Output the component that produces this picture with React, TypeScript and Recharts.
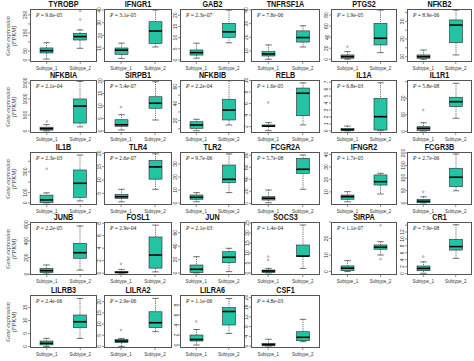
import React from 'react';
import { ComposedChart, Bar, Line, XAxis, YAxis } from 'recharts';

const genes = [
  'TYROBP', 'IFNGR1', 'GAB2', 'TNFRSF1A', 'PTGS2', 'NFKB2',
  'NFKBIA', 'SIRPB1', 'NFKBIB', 'RELB', 'IL1A', 'IL1R1',
  'IL1B', 'TLR4', 'TLR2', 'FCGR2A', 'IFNGR2', 'FCGR3B',
  'JUNB', 'FOSL1', 'JUN', 'SOCS3', 'SIRPA', 'CR1',
  'LILRB3', 'LILRA2', 'LILRA6', 'CSF1',
];

const pValues = [
  '9.6e-05', '3.1e-05', '2.3e-07', '7.8e-06', '1.9e-05', '8.9e-06',
  '2.1e-04', '5.4e-07', '2.2e-04', '1.6e-05', '6.8e-03', '5.8e-08',
  '2.3e-03', '2.6e-07', '9.7e-06', '5.7e-08', '1.7e-05', '2.7e-06',
  '2.2e-05', '2.9e-04', '2.1e-03', '1.4e-04', '1.1e-07', '7.9e-08',
  '2.4e-06', '2.9e-06', '1.1e-06', '4.8e-03',
];

const groups = ['Subtype_1', 'Subtype_2'];

const yDomains: [number, number][] = [
  [-11, 283], [-0.8, 40.8], [-0.9, 22.8], [1.9, 40.7], [-5, 91], [7, 37],
  [-61, 1591], [-0.8, 20.4], [5, 68], [0.9, 10.1], [-0.3, 7.3], [-1, 31],
  [-20, 490], [0.6, 20.5], [-1.5, 39.2], [-2.8, 85.5], [-0.5, 42], [-8, 204],
  [-10, 630], [-0.3, 8.2], [-3, 76], [-1, 25.5], [-2.1, 30], [-0.4, 14.9],
  [-0.6, 19.8], [-0.7, 23], [-0.6, 10], [-0.8, 21],
];

const yTicks = [
  [0, 50, 100, 150, 200, 250], [10, 20, 30, 40], [0, 5, 10, 15, 20], [10, 20, 30, 40], [0, 20, 40, 60, 80], [10, 15, 20, 25, 30, 35],
  [0, 500, 1000, 1500], [0, 5, 10, 15, 20], [10, 20, 30, 40, 50, 60], [2, 4, 6, 8, 10], [0, 1, 2, 3, 4, 5, 6, 7], [0, 10, 20, 30],
  [0, 100, 200, 300, 400], [5, 10, 15, 20], [0, 10, 20, 30], [0, 20, 40, 60, 80], [10, 20, 30, 40], [0, 50, 100, 150, 200],
  [0, 200, 400, 600], [0, 2, 4, 6, 8], [0, 20, 40, 60], [0, 5, 10, 15, 20, 25], [0, 10, 20, 30], [0, 2, 4, 6, 8, 10, 12, 14],
  [0, 5, 10, 15], [0, 5, 10, 15, 20], [0, 2, 4, 6, 8], [0, 4, 8, 12, 16, 20],
];

const yTickLabels = [
  ['0', '50', '', '150', '', '250'], ['10', '20', '30', '40'], ['0', '5', '10', '15', '20'], ['10', '20', '30', '40'], ['0', '20', '40', '60', '80'], ['10', '', '20', '', '30', ''],
  ['0', '500', '1000', '1500'], ['0', '5', '10', '15', '20'], ['', '20', '', '40', '', '60'], ['2', '4', '6', '8', '10'], ['0', '1', '2', '3', '4', '5', '6', '7'], ['0', '10', '20', ''],
  ['0', '100', '', '300', ''], ['5', '10', '15', '20'], ['0', '10', '20', '30'], ['0', '20', '40', '60', '80'], ['10', '20', '30', '40'], ['0', '50', '100', '150', '200'],
  ['0', '200', '400', '600'], ['0', '2', '4', '6', '8'], ['0', '20', '40', '60'], ['0', '5', '10', '15', '20', '25'], ['0', '10', '20', ''], ['0', '2', '4', '6', '8', '10', '12', ''],
  ['0', '5', '10', '15'], ['0', '5', '10', '15', '20'], ['0', '2', '4', '6', '8'], ['0', '4', '8', '12', '16', '20'],
];

// [min, q1, median, q3, max] (whisker ends and box)
const subtype1Stats = [
  [5, 39, 52, 67, 96], [2, 5.2, 8.5, 10.2, 14], [0.8, 2.2, 3.3, 4.5, 7.5], [3.9, 6.3, 7.8, 9.5, 14.4], [0, 1.8, 4.7, 7.8, 13.8], [8.5, 9.1, 10, 11, 13.8],
  [5, 30, 75, 120, 200], [0.4, 1.9, 2.5, 4.5, 6.5], [7.7, 10.6, 14.5, 18.4, 21.3], [1.3, 2.0, 2.1, 2.3, 2.7], [0, 0.03, 0.17, 0.37, 0.7], [0.2, 0.4, 1.8, 2.8, 5.2],
  [0, 2, 29, 75, 97], [1.8, 3.1, 3.7, 4.6, 6.5], [1, 2.9, 4.4, 6.2, 8], [1, 5.5, 8.4, 11, 22.2], [2.1, 4.1, 6.2, 7.5, 10.2], [0, 1.2, 6.8, 15, 25],
  [2, 18, 42, 71, 111], [0, 0.05, 0.12, 0.25, 0.6], [0, 0.5, 5.5, 11.9, 24.3], [0, 0.2, 1, 1.5, 2.3], [0, 0.5, 2, 3.4, 6.6], [0.1, 0.84, 1.5, 2.2, 3.4],
  [0, 0.6, 1.2, 2.1, 3.1], [0, 1.7, 2.4, 3.2, 3.6], [0, 0.8, 1.1, 2, 3.1], [0, 0.1, 0.6, 1.1, 2.8],
];

const subtype2Stats = [
  [65, 111, 130, 148, 167], [11, 13.8, 23.5, 30.8, 40], [7.7, 10.1, 12.6, 16.4, 22.3], [12.9, 16.5, 19.8, 24.7, 28.4], [12, 25.9, 38, 65, 89], [11, 17.9, 27.9, 30.8, 36.4],
  [130, 250, 780, 1000, 1550], [4.4, 9.1, 11.1, 13.7, 19.7], [14.5, 20.5, 32.3, 45.1, 67.2], [2.3, 3.9, 7.8, 8.7, 9.6], [0.03, 0.13, 2.04, 4.68, 6.9], [7.9, 14.9, 17.9, 20.6, 29],
  [19, 54, 189, 317, 461], [6.5, 10.3, 14.9, 17.4, 19.8], [8, 15.6, 18.2, 29.2, 37.7], [23.4, 50, 56.7, 75, 80.5], [8.3, 15.5, 18.2, 23.6, 24.9], [49, 65, 103, 139, 196],
  [50, 192, 259, 373, 582], [0.2, 0.8, 2.9, 5.8, 7.7], [2, 15.3, 23.4, 31.7, 36.8], [2.3, 8.2, 8.5, 14, 24], [10, 13.5, 14.7, 16.1, 18.1], [4.4, 6.8, 7.8, 9.9, 14.1],
  [3.1, 7.2, 9.5, 12.1, 18.5], [6.6, 8.4, 10.6, 15.5, 21.5], [2.3, 4, 6.7, 7.5, 9.3], [1.8, 2.2, 3.6, 5.9, 11],
];

const subtype1Outliers = [
  [], [], [], [], [22.8], [],
  [300], [9.5], [], [6.2], [], [12.9],
  [329], [], [], [], [], [45],
  [], [1.5], [], [6.5, 8.2], [], [4.9],
  [], [7.3], [4.7], [],
];

const subtype2Outliers = [
  [225, 272], [], [], [], [], [],
  [], [], [], [], [], [],
  [], [], [], [], [], [],
  [], [], [], [], [7.5, 28], [],
  [], [], [], [],
];

const TEAL = '#22c4a3';
const COL_X = [30, 104, 180, 251, 331, 407];
const COL_W = [67, 68, 65, 69, 66, 65];
const ROW_Y = [9, 80, 152, 222, 295];
const BOX_H = 53;
const AXIS_W = 14;
const X_H = 12;
const PAD_T = 7;

function BoxShape(props: any) {
  const { x, y, width, height, payload } = props;
  if (x == null || y == null) return null;
  const top = Math.min(y, y + height);
  const h = Math.abs(height);
  const span = payload.max - payload.min;
  const py = (v: number) => top + ((payload.max - v) / span) * h;
  const cx = x + width / 2;
  const yq1 = py(payload.q1);
  const yq3 = py(payload.q3);
  const ymed = py(payload.med);
  return (
    <g>
      <line x1={cx} x2={cx} y1={top} y2={yq3} stroke="#333" strokeWidth={0.7} strokeDasharray="1.2 1" />
      <line x1={cx} x2={cx} y1={yq1} y2={top + h} stroke="#333" strokeWidth={0.7} strokeDasharray="1.2 1" />
      <line x1={cx - width / 4} x2={cx + width / 4} y1={top} y2={top} stroke="#333" strokeWidth={0.7} />
      <line x1={cx - width / 4} x2={cx + width / 4} y1={top + h} y2={top + h} stroke="#333" strokeWidth={0.7} />
      <rect x={x} y={yq3} width={width} height={Math.max(yq1 - yq3, 0.5)} fill={TEAL} stroke="#2b2b2b" strokeWidth={0.6} />
      <line x1={x} x2={x + width} y1={ymed} y2={ymed} stroke="#000" strokeWidth={1.6} />
    </g>
  );
}

function OutlierDot(props: any) {
  const { cx, cy, value, index } = props;
  if (cx == null || cy == null || value == null) return <g key={index} />;
  return <circle key={index} cx={cx} cy={cy} r={0.9} fill="none" stroke="#666" strokeWidth={0.5} />;
}

function XTick(props: any) {
  const { x, y, payload } = props;
  return (
    <text transform={`translate(${x} ${y}) scale(0.8 1)`} y={6} textAnchor="middle" fontSize={5.6} fill="#333" fontFamily="'Liberation Sans', Arial, sans-serif">
      {payload.value}
    </text>
  );
}

function makeYTick(ticks: number[], labels: string[]) {
  return (props: any) => {
    const { x, y, payload } = props;
    const idx = ticks.indexOf(payload.value);
    const lab = idx >= 0 ? labels[idx] : '';
    const tx = x - 0.5;
    return (
      <text x={tx} y={y} transform={`rotate(-90 ${tx} ${y})`} textAnchor="middle" fontSize={5} fill="#333" fontFamily="'Liberation Sans', Arial, sans-serif">
        {lab}
      </text>
    );
  };
}

function Panel({ i }: { i: number }) {
  const col = i % 6;
  const row = Math.floor(i / 6);
  const left = COL_X[col];
  const top = ROW_Y[row];
  const w = COL_W[col];
  const data = groups.map((g, k) => {
    const s = k === 0 ? subtype1Stats[i] : subtype2Stats[i];
    const o = k === 0 ? subtype1Outliers[i] : subtype2Outliers[i];
    return {
      name: g,
      range: [s[0], s[4]],
      min: s[0], q1: s[1], med: s[2], q3: s[3], max: s[4],
      o1: o[0] ?? null, o2: o[1] ?? null,
    };
  });
  const YTick = makeYTick(yTicks[i], yTickLabels[i]);

  return (
    <>
      <div style={{
        position: 'absolute', left: left - 6, top: top - 10, width: w + 12, height: 10, textAlign: 'center',
        fontFamily: "'Liberation Sans', Arial, sans-serif", fontWeight: 'bold', fontSize: 9, lineHeight: '10px',
        transform: 'scaleX(0.8)', color: '#111', whiteSpace: 'nowrap',
      }}>
        {genes[i]}
      </div>
      <div style={{ position: 'absolute', left: left - AXIS_W, top: top - PAD_T }}>
        <ComposedChart width={w + AXIS_W} height={BOX_H + X_H + PAD_T} data={data} margin={{ top: PAD_T, right: 0, bottom: 0, left: 0 }}>
          <XAxis dataKey="name" height={X_H} tick={<XTick />} tickSize={2} tickMargin={0} axisLine={false} interval={0} tickLine={{ stroke: '#444', strokeWidth: 0.6 }} />
          <YAxis type="number" domain={yDomains[i]} ticks={yTicks[i]} width={AXIS_W} tick={<YTick />} tickSize={2} tickMargin={0}
            axisLine={false} allowDataOverflow interval={0} tickLine={{ stroke: '#444', strokeWidth: 0.6 }} />
          <Bar dataKey="range" barSize={13} shape={BoxShape} isAnimationActive={false} />
          <Line dataKey="o1" stroke="none" dot={OutlierDot} activeDot={false} isAnimationActive={false} />
          <Line dataKey="o2" stroke="none" dot={OutlierDot} activeDot={false} isAnimationActive={false} />
        </ComposedChart>
      </div>
      <div style={{ position: 'absolute', left, top, width: w, height: BOX_H, border: '0.8px solid #555', boxSizing: 'border-box', pointerEvents: 'none' }} />
      <div style={{
        position: 'absolute', left: left + 6, top: top + 2, fontFamily: "'Liberation Serif', 'Times New Roman', serif",
        fontSize: 6, lineHeight: '8px', whiteSpace: 'nowrap', color: '#222', transform: 'scaleX(0.93)', transformOrigin: 'left',
      }}>
        <i>P</i> = {pValues[i]}
      </div>
    </>
  );
}

function YLabel({ row }: { row: number }) {
  const cy = ROW_Y[row] + BOX_H / 2;
  const base: React.CSSProperties = {
    position: 'absolute', top: cy, whiteSpace: 'nowrap', fontFamily: "'Liberation Serif', 'Times New Roman', serif",
    fontStyle: 'italic', fontSize: 6, lineHeight: '6px', color: '#333', transform: 'translate(-50%, -50%) rotate(-90deg)',
  };
  return (
    <>
      <div style={{ ...base, left: 7.5 }}>Gene expression</div>
      <div style={{ ...base, left: 14 }}>(FPKM)</div>
    </>
  );
}

export default function App() {
  return (
    <div style={{ position: 'absolute', left: 0, top: 0, width: 474, height: 361, background: '#fff', overflow: 'hidden' }}>
      {ROW_Y.map((_, r) => <YLabel key={r} row={r} />)}
      {genes.map((_, i) => <Panel key={i} i={i} />)}
    </div>
  );
}
